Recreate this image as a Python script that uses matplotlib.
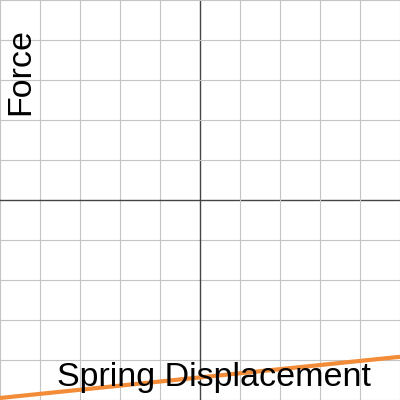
import matplotlib
matplotlib.use("Agg")
import matplotlib.pyplot as plt

line_x = [-5, 5]
line_y = [-4.95, -3.92]
x_label = "Spring Displacement"
y_label = "Force"

fig = plt.figure(figsize=(4, 4), dpi=100)
ax = fig.add_axes([0, 0, 1, 1])
ax.set_xlim(-5, 5)
ax.set_ylim(-5, 5)
for v in range(-5, 6):
    c = "#444444" if v == 0 else "#c4c4c4"
    lw = 1.0 if v == 0 else 0.8
    ax.axvline(v, color=c, lw=lw, zorder=1)
    ax.axhline(v, color=c, lw=lw, zorder=1)
ax.plot(line_x, line_y, color="#f28c38", lw=3, zorder=3, solid_capstyle="butt")
ax.text(57 / 40 - 5, 5 - 386 / 40, x_label, fontsize=24.5, family="Liberation Sans",
        va="baseline", ha="left", zorder=4)
ax.text(5 / 40 - 5, 5 - 115 / 40, y_label, fontsize=24.5, family="Liberation Sans",
        rotation=90, va="bottom", ha="left", zorder=4)
ax.set_xticks([]); ax.set_yticks([])
for s in ax.spines.values():
    s.set_visible(False)
fig.savefig("out.png", dpi=100)
